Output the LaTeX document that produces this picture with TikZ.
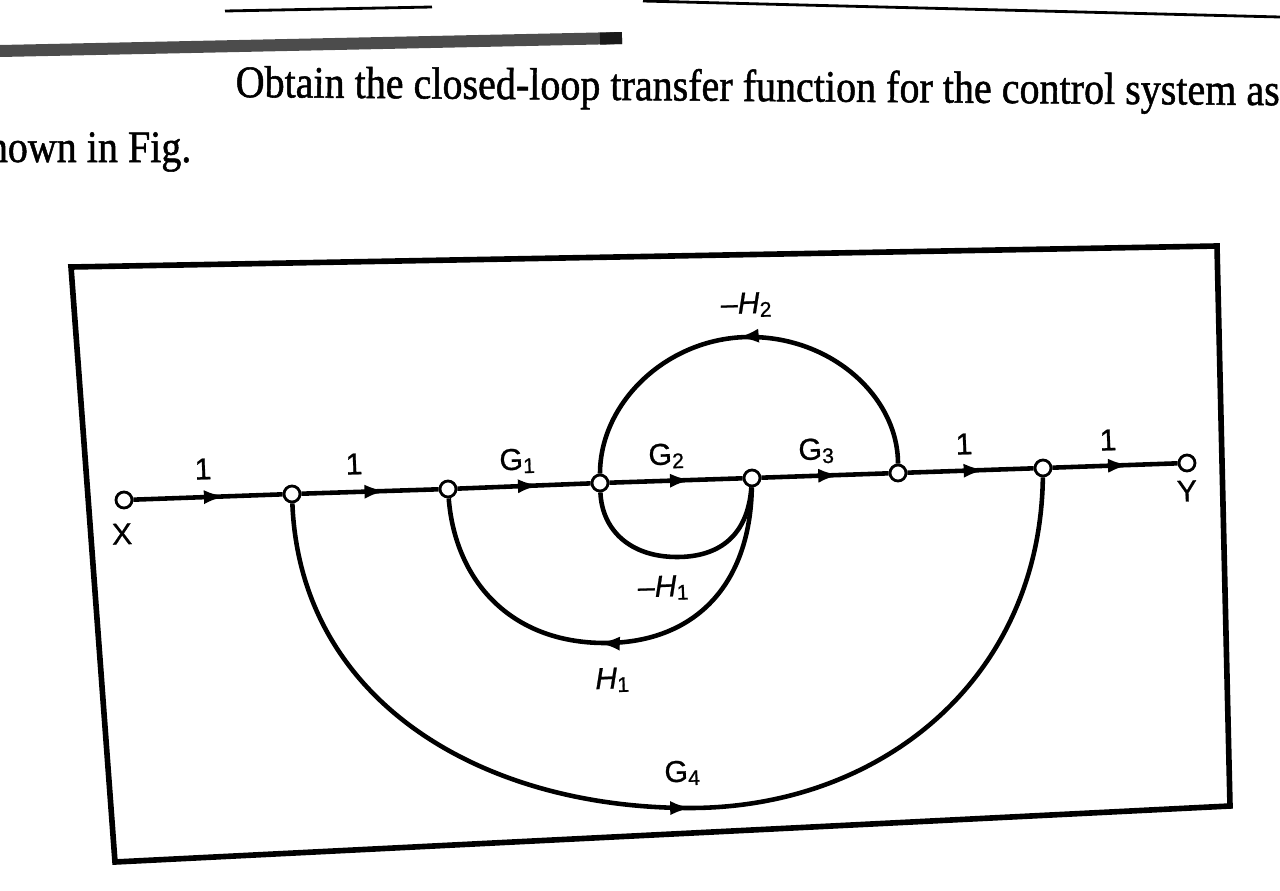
\documentclass[tikz,border=0pt]{standalone}
\usepackage{fontspec}
\setmainfont{Liberation Serif}
\setsansfont{Liberation Sans}
\newfontfamily\pagefont[FakeBold=1.2]{Liberation Serif}
\newfontfamily\gainfont[FakeBold=0.8]{Liberation Sans}
\usetikzlibrary{arrows.meta,decorations.markings}

\begin{document}
\begin{tikzpicture}[x=0.1mm,y=-0.1mm,
	vertex/.style={circle,draw,fill=white,line width=0.8pt,inner sep=0pt,minimum size=1.6mm},
	branch/.style={line width=1.3pt},
	flow/.style={decoration={markings,mark=at position #1 with {\arrow{Latex[length=2.2mm,width=1.4mm]}}},postaction={decorate}},
	gain/.style={font=\gainfont\fontsize{8.6}{10}\selectfont,rotate=2,inner sep=0pt},
	question/.style={font=\pagefont\fontsize{12.8}{14}\selectfont,xscale=0.89,transform shape,inner sep=0pt}]
	\useasboundingbox (0,0) rectangle (1280,891);

	\draw[line width=0.8pt] (225,11) -- (432,7);
	\draw[line width=0.8pt] (643,1) -- (1280,17);
	\draw[line width=1.2mm,black!70] (0,51) -- (622,38);
	\draw[line width=1.2mm,black!90] (600,38.7) -- (622,38);
	\node[question,anchor=base west,rotate=-0.4] (q1) at (235,97) {Obtain the closed-loop transfer function for the control system as};
	\node[question,anchor=base east] (q2) at (192,162) {shown in Fig.};

	\draw[line width=1.6pt] (71,267) -- (1217,246) -- (1230,806) -- (115,862) -- cycle;

	\node[vertex] (X) at (124,500) {};
	\node[vertex] (a) at (292,494) {};
	\node[vertex] (b) at (448,489) {};
	\node[vertex] (c) at (600,483) {};
	\node[vertex] (d) at (752,478) {};
	\node[vertex] (e) at (898,473) {};
	\node[vertex] (f) at (1043,468) {};
	\node[vertex] (Y) at (1187,463) {};

	\draw[branch,flow=0.62] (X) -- (a);
	\draw[branch,flow=0.62] (a) -- (b);
	\draw[branch,flow=0.62] (b) -- (c);
	\draw[branch,flow=0.62] (c) -- (d);
	\draw[branch,flow=0.62] (d) -- (e);
	\draw[branch,flow=0.62] (e) -- (f);
	\draw[branch,flow=0.62] (f) -- (Y);

	\draw[branch,flow=0.52] (e) .. controls (898,397) and (832,337) .. (750,337) .. controls (668,337) and (600,402) .. (c);
	\draw[branch] (d) .. controls (748,535) and (720,557) .. (677,557) .. controls (630,557) and (602,530) .. (c);
	\draw[branch,flow=0.52] (d) .. controls (750,590) and (690,643) .. (605,643) .. controls (510,643) and (455,580) .. (b);
	\draw[branch,flow=0.51] (a) .. controls (300,700) and (480,808) .. (690,808) .. controls (880,808) and (1040,680) .. (f);

	\node[gain] (lx) at (122,534) {X};
	\node[gain] (ly) at (1187,491) {Y};
	\node[gain] (l1) at (203,469) {1};
	\node[gain] (l2) at (354,464) {1};
	\node[gain] (lg1) at (518,461) {G\textsubscript{1}};
	\node[gain] (lg2) at (667,456) {G\textsubscript{2}};
	\node[gain] (lg3) at (817,451) {G\textsubscript{3}};
	\node[gain] (l3) at (964,444) {1};
	\node[gain] (l4) at (1108,440) {1};
	\node[gain] (lh2) at (747,305) {–\textit{H}\textsubscript{2}};
	\node[gain] (lh1n) at (664,588) {–\textit{H}\textsubscript{1}};
	\node[gain] (lh1) at (613,680) {\textit{H}\textsubscript{1}};
	\node[gain] (lg4) at (683,773) {G\textsubscript{4}};
\end{tikzpicture}
\end{document}
